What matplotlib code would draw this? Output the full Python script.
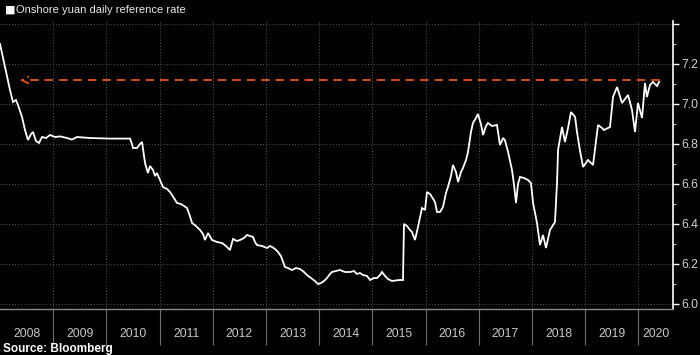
import matplotlib
matplotlib.use("Agg")
import matplotlib.pyplot as plt
from matplotlib.ticker import FixedLocator, MultipleLocator, FixedFormatter

plt.rcParams['font.family'] = ['Liberation Sans', 'DejaVu Sans']

# ---- data (decimal year, CNY per USD) ----
years = [2008.00, 2008.094, 2008.188, 2008.244, 2008.30, 2008.338, 2008.414, 2008.47, 2008.526, 2008.583,
         2008.62, 2008.677, 2008.733, 2008.79, 2008.865, 2008.94, 2009.034, 2009.128, 2009.26, 2009.353,
         2009.447, 2009.69, 2010.068, 2010.444, 2010.481, 2010.50, 2010.575, 2010.632, 2010.67, 2010.726,
         2010.78, 2010.82, 2010.876, 2010.914, 2010.95, 2011.008, 2011.064, 2011.14, 2011.195, 2011.27,
         2011.327, 2011.40, 2011.46, 2011.515, 2011.57, 2011.61, 2011.684, 2011.76, 2011.816, 2011.853,
         2011.91, 2011.985, 2012.079, 2012.173, 2012.248, 2012.323, 2012.38, 2012.455, 2012.511, 2012.586,
         2012.643, 2012.70, 2012.756, 2012.793, 2012.83, 2012.925, 2013.019, 2013.075, 2013.113, 2013.17,
         2013.226, 2013.28, 2013.357, 2013.41, 2013.489, 2013.564, 2013.64, 2013.714, 2013.77, 2013.846,
         2013.92, 2013.977, 2014.034, 2014.09, 2014.147, 2014.203, 2014.24, 2014.316, 2014.39, 2014.485,
         2014.579, 2014.654, 2014.71, 2014.767, 2014.823, 2014.90, 2014.955, 2015.03, 2015.086, 2015.143,
         2015.18, 2015.237, 2015.293, 2015.368, 2015.444, 2015.519, 2015.575, 2015.594, 2015.65, 2015.707,
         2015.744, 2015.80, 2015.857, 2015.932, 2015.989, 2016.026, 2016.083, 2016.12, 2016.177, 2016.214,
         2016.27, 2016.327, 2016.383, 2016.42, 2016.477, 2016.515, 2016.571, 2016.61, 2016.665, 2016.703,
         2016.76, 2016.797, 2016.853, 2016.89, 2016.947, 2016.985, 2017.04, 2017.08, 2017.135, 2017.173,
         2017.248, 2017.342, 2017.398, 2017.455, 2017.49, 2017.55, 2017.624, 2017.66, 2017.70, 2017.737,
         2017.774, 2017.85, 2017.925, 2017.98, 2018.02, 2018.094, 2018.15, 2018.207, 2018.263, 2018.338,
         2018.432, 2018.47, 2018.49, 2018.564, 2018.62, 2018.677, 2018.733, 2018.81, 2018.846, 2018.90,
         2018.96, 2019.053, 2019.147, 2019.241, 2019.316, 2019.353, 2019.466, 2019.523, 2019.598, 2019.617,
         2019.692, 2019.805, 2019.88, 2019.936, 2019.992, 2020.068, 2020.124, 2020.16, 2020.218, 2020.274,
         2020.35, 2020.388]
rates = [7.30, 7.185, 7.07, 7.01, 7.02, 6.995, 6.935, 6.87, 6.82, 6.85,
         6.86, 6.815, 6.805, 6.835, 6.83, 6.845, 6.835, 6.838, 6.83, 6.822,
         6.835, 6.83, 6.827, 6.827, 6.80, 6.78, 6.78, 6.80, 6.81, 6.705,
         6.655, 6.69, 6.67, 6.64, 6.655, 6.62, 6.585, 6.575, 6.56, 6.53,
         6.505, 6.50, 6.49, 6.48, 6.44, 6.405, 6.39, 6.37, 6.35, 6.32,
         6.355, 6.32, 6.31, 6.305, 6.29, 6.27, 6.325, 6.315, 6.32, 6.33,
         6.345, 6.34, 6.335, 6.31, 6.295, 6.29, 6.28, 6.29, 6.285, 6.275,
         6.26, 6.24, 6.185, 6.18, 6.17, 6.18, 6.175, 6.16, 6.145, 6.13,
         6.115, 6.10, 6.105, 6.115, 6.13, 6.15, 6.16, 6.165, 6.17, 6.16,
         6.16, 6.165, 6.15, 6.155, 6.145, 6.14, 6.12, 6.13, 6.13, 6.145,
         6.16, 6.14, 6.125, 6.115, 6.118, 6.12, 6.12, 6.40, 6.39, 6.37,
         6.36, 6.32, 6.385, 6.48, 6.47, 6.56, 6.55, 6.535, 6.51, 6.46,
         6.46, 6.485, 6.555, 6.585, 6.64, 6.695, 6.66, 6.61, 6.66, 6.68,
         6.72, 6.76, 6.86, 6.905, 6.93, 6.95, 6.90, 6.845, 6.89, 6.905,
         6.89, 6.895, 6.795, 6.83, 6.82, 6.76, 6.67, 6.60, 6.505, 6.60,
         6.635, 6.63, 6.62, 6.605, 6.505, 6.405, 6.295, 6.345, 6.28, 6.37,
         6.41, 6.605, 6.77, 6.885, 6.81, 6.88, 6.96, 6.935, 6.86, 6.77,
         6.685, 6.72, 6.695, 6.895, 6.88, 6.87, 6.885, 7.035, 7.085, 7.07,
         7.005, 7.045, 6.97, 6.86, 7.005, 6.93, 7.105, 7.035, 7.095, 7.11,
         7.09, 7.11]

ref_level = 7.12
year_labels = ['2008', '2009', '2010', '2011', '2012', '2013', '2014', '2015',
               '2016', '2017', '2018', '2019', '2020']
legend_label = 'Onshore yuan daily reference rate'
source_text = 'Source: Bloomberg'

# ---- figure ----
BG = 'black'
fig = plt.figure(figsize=(7.0, 3.55), dpi=100, facecolor=BG)
ax = fig.add_axes([0.0, 1 - 309 / 355, 673 / 700, (309 - 21) / 355], facecolor=BG)

xmin, xmax = 2008.0, 2008.0 + 673 / 53.2
ymin, ymax = 5.975, 7.415
ax.set_xlim(xmin, xmax)
ax.set_ylim(ymin, ymax)

ax.plot(years, rates, color='white', lw=1.3, solid_joinstyle='miter')

# dashed reference line with arrow pointing left
ax.annotate('', xy=(years[0] + 0.37, ref_level), xytext=(years[-1], ref_level),
            arrowprops=dict(arrowstyle='->', color='#e2581c', lw=1.3,
                            linestyle=(0, (4, 4)), mutation_scale=12,
                            shrinkA=0, shrinkB=0))

# spines
for s in ['top', 'left']:
    ax.spines[s].set_visible(False)
ax.spines['right'].set_color('white')
ax.spines['right'].set_linewidth(1.2)
ax.spines['bottom'].set_color('#8a8a8a')
ax.spines['bottom'].set_linewidth(1.0)

# y axis on the right
ax.yaxis.tick_right()
yt = [6.0, 6.2, 6.4, 6.6, 6.8, 7.0, 7.2, 7.4]
ax.yaxis.set_major_locator(FixedLocator(yt))
ax.yaxis.set_major_formatter(FixedFormatter(['6.0', '6.2', '6.4', '6.6', '6.8', '7.0', '7.2', '']))
ax.yaxis.set_minor_locator(MultipleLocator(0.1))
ax.tick_params(axis='y', which='major', direction='out', length=4.5, width=1.0,
               colors='white', labelcolor='#d0d0d0', labelsize=8.8, pad=1.5)
ax.tick_params(axis='y', which='minor', direction='out', length=2.5, width=0.8, colors='#bbbbbb')

# x axis: year separators as major ticks, labels on minor ticks
year_starts = list(range(2009, 2021))
ax.xaxis.set_major_locator(FixedLocator(year_starts))
ax.xaxis.set_major_formatter(FixedFormatter([''] * len(year_starts)))
centers = []
for i, lab in enumerate(year_labels):
    y0 = max(2008 + i, xmin)
    y1 = min(2009 + i, xmax)
    centers.append((y0 + y1) / 2)
ax.xaxis.set_minor_locator(FixedLocator(centers))
ax.xaxis.set_minor_formatter(FixedFormatter(year_labels))
ax.tick_params(axis='x', which='major', direction='out', length=26, width=0.8, colors='#707070')
ax.tick_params(axis='x', which='minor', length=0, labelsize=8.8, labelcolor='#c8c8c8', pad=13.5)

# grids
ax.grid(True, which='major', axis='both', color='#555555', linestyle=(0, (1, 2)), linewidth=0.7)
ax.set_axisbelow(True)

# legend-like label at top left
fig.text(5 / 700, 1 - 10 / 355, '\u25A0', color='white', fontsize=8, va='center', ha='left',
         family=['DejaVu Sans'])
fig.text(16 / 700, 1 - 10 / 355, legend_label, color='#e8e8e8', fontsize=8, va='center', ha='left')

# source
fig.text(3 / 700, 1 - 349 / 355, source_text, color='white', fontsize=8.5, fontweight='bold',
         va='center', ha='left')

fig.savefig('out.png', dpi=100, facecolor=BG)
